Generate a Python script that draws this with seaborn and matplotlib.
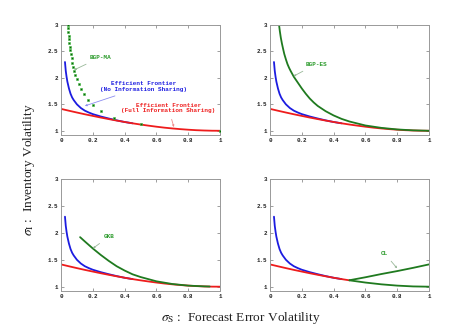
import matplotlib
matplotlib.use("Agg")
import matplotlib.pyplot as plt
import seaborn as sns
import pandas as pd

# ---- data ----
red_x = [0.0, 0.05, 0.1, 0.15, 0.2, 0.25, 0.3, 0.35, 0.4, 0.45, 0.5,
         0.55, 0.6, 0.65, 0.7, 0.75, 0.8, 0.85, 0.9, 0.95, 1.0]
red_y = [1.414, 1.379, 1.345, 1.312, 1.281, 1.250, 1.221, 1.193, 1.166, 1.141, 1.118,
         1.097, 1.077, 1.059, 1.044, 1.031, 1.020, 1.011, 1.005, 1.001, 1.0]

blue_x = [0.025, 0.03, 0.035, 0.04, 0.05, 0.06, 0.07, 0.08, 0.1, 0.125, 0.15,
          0.175, 0.2, 0.25, 0.3, 0.35, 0.4, 0.45]
blue_y = [2.30, 2.13, 2.02, 1.93, 1.80, 1.70, 1.63, 1.58, 1.50, 1.43, 1.38,
          1.345, 1.315, 1.27, 1.232, 1.197, 1.166, 1.141]

ma_x = [1.0, 0.5, 0.333, 0.25, 0.2, 0.167, 0.143, 0.125, 0.111, 0.1, 0.0909, 0.0833,
        0.0769, 0.0714, 0.0667, 0.0625, 0.0588, 0.0556, 0.0526, 0.05, 0.0476, 0.0455,
        0.0435, 0.0417]
ma_y = [1.0, 1.12, 1.25, 1.38, 1.49, 1.59, 1.69, 1.79, 1.88, 1.97, 2.05, 2.13,
        2.21, 2.29, 2.37, 2.45, 2.52, 2.59, 2.66, 2.73, 2.80, 2.87, 2.94, 3.0]

es_x = [0.057, 0.062, 0.068, 0.075, 0.083, 0.09, 0.1, 0.11, 0.12, 0.13, 0.15, 0.175,
        0.2, 0.225, 0.25, 0.275, 0.3, 0.35, 0.4, 0.45, 0.5, 0.6, 0.7, 0.8, 0.9, 1.0]
es_y = [3.0, 2.88, 2.76, 2.65, 2.54, 2.45, 2.35, 2.26, 2.19, 2.13, 2.02, 1.91,
        1.80, 1.70, 1.61, 1.535, 1.47, 1.37, 1.29, 1.225, 1.175, 1.10, 1.055, 1.025,
        1.008, 1.0]

gkb_x = [0.12, 0.15, 0.2, 0.25, 0.3, 0.35, 0.4, 0.45, 0.5, 0.6, 0.7, 0.8, 0.9, 0.935]
gkb_y = [1.92, 1.84, 1.71, 1.59, 1.48, 1.38, 1.30, 1.23, 1.18, 1.10, 1.05, 1.02, 1.006, 1.003]

cl_up_x = [0.5, 0.6, 0.7, 0.8, 0.9, 1.0]
cl_up_y = [1.12, 1.175, 1.235, 1.29, 1.35, 1.414]
cl_lo_x = [0.5, 0.6, 0.7, 0.8, 0.9, 1.0]
cl_lo_y = [1.118, 1.077, 1.044, 1.02, 1.005, 1.0]

x_ticks = [0, 0.2, 0.4, 0.6, 0.8, 1]
x_tick_labels = ["0", "0.2", "0.4", "0.6", "0.8", "1"]
y_ticks = [1, 1.5, 2, 2.5, 3]
y_tick_labels = ["1", "1.5", "2", "2.5", "3"]

RED = "#ee1c1c"
BLUE = "#1c1ce0"
GREEN = "#1f7a1f"
LGREEN = "#2a9a2a"

sns.set_theme(style="white")
plt.rcParams["mathtext.fontset"] = "stix"

fig = plt.figure(figsize=(4.74, 3.27), dpi=100)
boxes = [
    [61 / 474, 1 - 135 / 327, 159 / 474, 110 / 327],
    [270 / 474, 1 - 135 / 327, 159 / 474, 110 / 327],
    [61 / 474, 1 - 291 / 327, 159 / 474, 112 / 327],
    [270 / 474, 1 - 291 / 327, 159 / 474, 112 / 327],
]
axes = [fig.add_axes(b) for b in boxes]

mono = {"family": "Liberation Mono", "weight": "bold"}


def base(ax, red_max=1.0):
    bdf = pd.DataFrame({"x": blue_x, "y": blue_y})
    sns.lineplot(data=bdf, x="x", y="y", ax=ax, color=BLUE, lw=1.3, sort=False,
                 estimator=None)
    rdf = pd.DataFrame({"x": red_x, "y": red_y})
    rdf = rdf[rdf["x"] <= red_max + 1e-9]
    sns.lineplot(data=rdf, x="x", y="y", ax=ax, color=RED, lw=1.3, sort=False,
                 estimator=None)


def style(ax):
    ax.set_xlim(0, 1)
    ax.set_ylim(0.92, 3)
    ax.set_xticks(x_ticks)
    ax.set_xticklabels(x_tick_labels, fontdict=mono, fontsize=4.2)
    ax.set_yticks(y_ticks)
    ax.set_yticklabels(y_tick_labels, fontdict=mono, fontsize=4.2)
    ax.tick_params(direction="in", length=2, width=0.5, color="#777777",
                   top=True, right=True, bottom=True, left=True, pad=2,
                   labelcolor="#222222")
    for s in ax.spines.values():
        s.set_color("#999999")
        s.set_linewidth(0.7)
    ax.set_xlabel("")
    ax.set_ylabel("")


def note(ax, text, xy, xytext, color, acolor):
    ax.annotate(text, xy=xy, xytext=xytext, ha="center", va="center",
                color=color, fontsize=4.3, family="Liberation Mono", weight="bold",
                arrowprops=dict(arrowstyle="-|>,head_length=0.25,head_width=0.12",
                                color=acolor, lw=0.6, shrinkA=2, shrinkB=0))


# panel 1: BGP-MA
ax = axes[0]
base(ax)
mdf = pd.DataFrame({"x": ma_x, "y": ma_y})
sns.scatterplot(data=mdf, x="x", y="y", ax=ax, marker="s", s=3.5, color="#0d5e0d",
                edgecolor="#3fbf3f", linewidth=0.4, zorder=5)
note(ax, "BGP-MA", (0.082, 2.15), (0.25, 2.39), LGREEN, "#99b899")
note(ax, "Efficient Frontier\n(No Information Sharing)", (0.15, 1.47), (0.52, 1.84),
     BLUE, "#8c8cf0")
note(ax, "Efficient Frontier\n(Full Information Sharing)", (0.71, 1.07), (0.675, 1.43),
     RED, "#f08c8c")
style(ax)

# panel 2: BGP-ES
ax = axes[1]
base(ax)
edf = pd.DataFrame({"x": es_x, "y": es_y})
sns.lineplot(data=edf, x="x", y="y", ax=ax, color=GREEN, lw=1.3, sort=False,
             estimator=None)
note(ax, "BGP-ES", (0.147, 2.03), (0.29, 2.26), LGREEN, "#99b899")
style(ax)

# panel 3: GKB
ax = axes[2]
base(ax)
gdf = pd.DataFrame({"x": gkb_x, "y": gkb_y})
sns.lineplot(data=gdf, x="x", y="y", ax=ax, color=GREEN, lw=1.3, sort=False,
             estimator=None)
note(ax, "GKB", (0.2, 1.71), (0.306, 1.94), LGREEN, "#99b899")
style(ax)

# panel 4: CL
ax = axes[3]
base(ax, red_max=0.5)
udf = pd.DataFrame({"x": cl_up_x, "y": cl_up_y})
ldf = pd.DataFrame({"x": cl_lo_x, "y": cl_lo_y})
sns.lineplot(data=udf, x="x", y="y", ax=ax, color=GREEN, lw=1.3, sort=False,
             estimator=None)
sns.lineplot(data=ldf, x="x", y="y", ax=ax, color=GREEN, lw=1.3, sort=False,
             estimator=None)
note(ax, "CL", (0.80, 1.34), (0.72, 1.62), LGREEN, "#99b899")
style(ax)

serif = ["Liberation Serif", "DejaVu Serif"]
fig.text(0.061, 0.48, r"$\sigma_{\rm I}$ :  Inventory Volatility", rotation=90,
         ha="center", va="center", fontsize=9.6, family=serif, color="#222222")
fig.text(0.509, 0.028, r"$\sigma_{\rm S}$ :  Forecast Error Volatility",
         ha="center", va="center", fontsize=9.6, family=serif, color="#222222")

fig.savefig("out.png", dpi=100)
